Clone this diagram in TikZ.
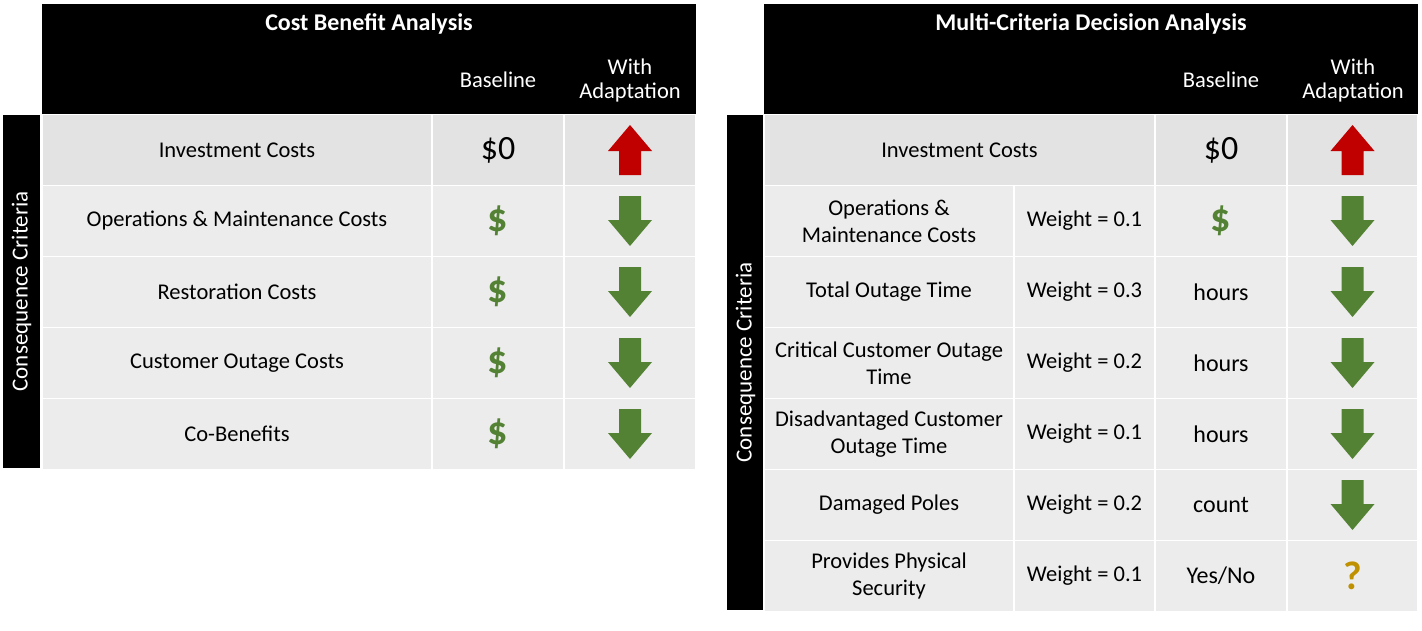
\documentclass[tikz,border=0pt]{standalone}
\usepackage{fontspec}
\setmainfont{Carlito}
\begin{document}
\begin{tikzpicture}[x=1pt,y=-1pt,
  cell/.style={draw=white,line width=1.5pt,inner sep=0pt,align=center,font=\fontsize{22.5}{27}\selectfont,text=black},
  g1/.style={cell,fill=gray!22},
  g2/.style={cell,fill=gray!15},
  hdr/.style={fill=black,inner sep=0pt,text=white,align=center},
  dol/.style={font=\fontsize{40}{42}\selectfont\bfseries,text=dollarg},
  down/.pic={\fill[arrg] (-11,-25)--(11,-25)--(11,-1)--(22,-1)--(0,25)--(-22,-1)--(-11,-1)--cycle;},
  up/.pic={\fill[arrr] (-11,25)--(11,25)--(11,1)--(22,1)--(0,-25)--(-22,1)--(-11,1)--cycle;}]
\definecolor{dollarg}{HTML}{548235}
\definecolor{arrg}{HTML}{548235}
\definecolor{arrr}{HTML}{C00000}
\definecolor{gold}{HTML}{BF9000}
\useasboundingbox (0,0) rectangle (1422,630);
% Left table
\node[hdr,minimum width=654,minimum height=111] (lh) at (369,59.5) {};
\node[text=white,font=\fontsize{24}{27}\selectfont\bfseries] (lt) at (369,24) {Cost Benefit Analysis};
\node[text=white,font=\fontsize{22.5}{27}\selectfont] (lb) at (498,80) {Baseline};
\node[text=white,font=\fontsize{22.5}{27}\selectfont,align=center] (lw) at (630,80) {With\\[-3pt]Adaptation};
\node[hdr,minimum width=37,minimum height=353] (ls) at (21.5,291.5) {};
\node[text=white,rotate=90,font=\fontsize{23}{27}\selectfont] (lst) at (21.5,291.5) {Consequence Criteria};
\foreach \i/\t/\st in {0/Investment Costs/g1,1/Operations \& Maintenance Costs/g2,2/Restoration Costs/g2,3/Customer Outage Costs/g2,4/Co-Benefits/g2}{
  \node[\st,minimum width=390,minimum height=71] (lr\i) at (237,150+71*\i) {\t};
  \node[\st,minimum width=132,minimum height=71] (lbase\i) at (498,150+71*\i) {};
  \node[\st,minimum width=132,minimum height=71] (larr\i) at (630,150+71*\i) {};
}
\node[font=\fontsize{34}{36}\selectfont] at (lbase0) {\$0};
\pic at (larr0) {up};
\foreach \i in {1,...,4}{ \node[dol] at (lbase\i) {\$}; \pic at (larr\i) {down}; }
% Right table
\node[hdr,minimum width=654,minimum height=111] (rh) at (1091,59.5) {};
\node[text=white,font=\fontsize{24}{27}\selectfont\bfseries] (rt) at (1091,24) {Multi-Criteria Decision Analysis};
\node[text=white,font=\fontsize{22.5}{27}\selectfont] (rb) at (1221,80) {Baseline};
\node[text=white,font=\fontsize{22.5}{27}\selectfont,align=center] (rw) at (1353,80) {With\\[-3pt]Adaptation};
\node[hdr,minimum width=37,minimum height=495] (rs) at (745.5,362.5) {};
\node[text=white,rotate=90,font=\fontsize{23}{27}\selectfont] (rst) at (745.5,362.5) {Consequence Criteria};
\node[g1,minimum width=391,minimum height=71] (rr0) at (959.5,150) {Investment Costs};
\node[g1,minimum width=132,minimum height=71] (rbase0) at (1221,150) {};
\node[g1,minimum width=131,minimum height=71] (rarr0) at (1352.5,150) {};
\node[font=\fontsize{34}{36}\selectfont] at (rbase0) {\$0};
\pic at (rarr0) {up};
\foreach \i/\t/\w/\b in {1/{Operations \&\\Maintenance Costs}/0.1/{},2/Total Outage Time/0.3/hours,3/{Critical Customer Outage\\Time}/0.2/hours,4/{Disadvantaged Customer\\Outage Time}/0.1/hours,5/Damaged Poles/0.2/count,6/{Provides Physical\\Security}/0.1/{Yes/No}}{
  \node[g2,minimum width=250,minimum height=71] (rr\i) at (889,150+71*\i) {\t};
  \node[g2,minimum width=141,minimum height=71] (rw\i) at (1084.5,150+71*\i) {Weight = \w};
  \node[g2,minimum width=132,minimum height=71,font=\fontsize{24}{27}\selectfont] (rbase\i) at (1221,150+71*\i) {\b};
  \node[g2,minimum width=131,minimum height=71] (rarr\i) at (1352.5,150+71*\i) {};
}
\node[dol] at (rbase1) {\$};
\foreach \i in {1,...,5}{ \pic at (rarr\i) {down}; }
\node[text=gold,font=\fontsize{40}{42}\selectfont\bfseries] at (rarr6) {?};
\end{tikzpicture}
\end{document}
